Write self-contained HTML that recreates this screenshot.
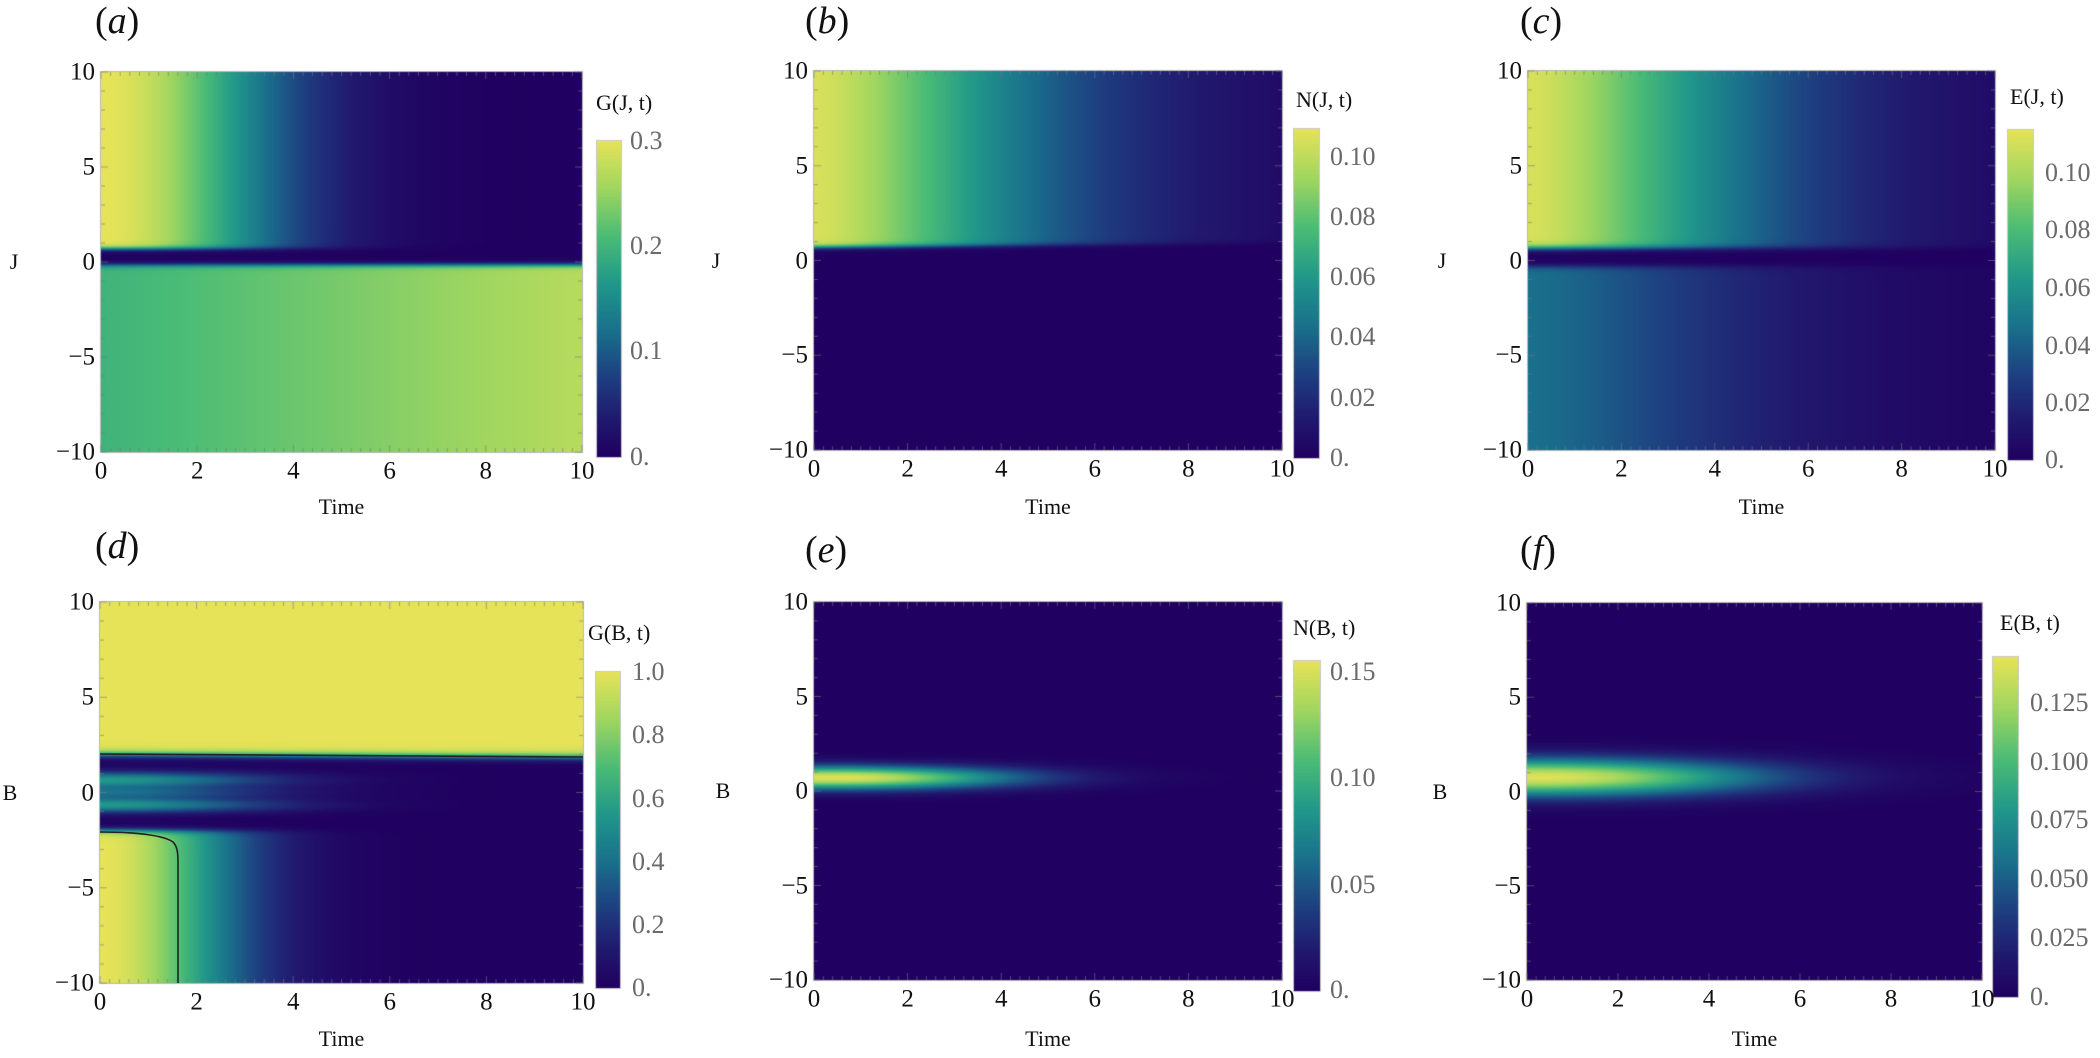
<!DOCTYPE html>
<html><head><meta charset="utf-8">
<style>
html,body{margin:0;padding:0;background:#fff;}
#wrap{position:relative;width:2100px;height:1058px;overflow:hidden;font-family:"Liberation Serif","DejaVu Serif",serif;}
canvas{position:absolute;left:0;top:0;}
.t{position:absolute;white-space:nowrap;color:#111;font-size:25px;line-height:1;}
.g{position:absolute;white-space:nowrap;color:#6a6a6a;font-size:26px;line-height:1;}
.p{position:absolute;white-space:nowrap;font-size:38px;line-height:1;color:#111;}
.p i{font-style:italic;}
.l{position:absolute;white-space:nowrap;font-size:22px;line-height:1;color:#111;}
</style></head><body>
<div id="wrap">
<canvas id="c" width="2100" height="1058"></canvas>
<svg width="2100" height="1058" style="position:absolute;left:0;top:0">
<path d="M100,754 C300,755 450,757 583,757" stroke="#222" stroke-width="1.6" fill="none"/>
<path d="M100,832 C140,832 165,836 173,842 C177,846 178,852 178,862 L178,983" stroke="#222" stroke-width="1.6" fill="none"/>
</svg>
<div id="txt"></div>
</div>
<script>
var stops=[[0,32,0,96],[0.12,33,25,110],[0.25,30,62,128],[0.4,26,112,140],[0.55,33,152,138],[0.7,75,188,118],[0.85,160,214,96],[1,230,227,88]];
function cmap(v){if(v<0)v=0;if(v>1)v=1;for(var i=1;i<stops.length;i++){if(v<=stops[i][0]){var a=stops[i-1],b=stops[i],f=(v-a[0])/(b[0]-a[0]);return [a[1]+(b[1]-a[1])*f,a[2]+(b[2]-a[2])*f,a[3]+(b[3]-a[3])*f];}}return [230,227,88];}
function s(x){return 1/(1+Math.exp(-x));}
function G(t,tau){return Math.exp(-(t/tau)*(t/tau));}
function P(t){return Math.exp(-Math.pow(t/5,1.5));}
var fa=function(t,J){var up=G(t,3.6),lo=0.66+0.24*t/10;return up*s((J-0.7)/0.08)+lo*s((-0.15-J)/0.08);};
var fb=function(t,J){return P(t)*0.97*s((J-0.7-0.02*t)/0.08);};
var fc=function(t,J){return P(t)*0.97*s((J-0.65)/0.1)+0.4*P(t)*s((-0.3-J)/0.1);};
var fd=function(t,B){var top=s((B-2.0+0.014*t)/0.12);
 var mid=(0.55*(Math.exp(-Math.pow((B-0.65)/0.45,2))+Math.exp(-Math.pow((B+0.65)/0.42,2)))+0.3*Math.exp(-Math.pow(B/0.3,2)))*G(t,3.6);
 var bot=G(t,2.8)*s((-2.0-B)/0.1);return Math.min(1,top+mid*(1-top)+bot);};
var fe=function(t,B){return 0.98*Math.exp(-Math.pow((B-0.7)/0.62,2))*Math.exp(-Math.pow(Math.max(0,t-0.5)/3.8,2));};
var ff=function(t,B){return 0.98*Math.exp(-Math.pow((B-0.75)/1.0,2))*Math.exp(-Math.pow(Math.max(0,t-0.3)/4.8,2));};
var panels=[
 {x0:101,x1:582,y0:72,y1:452,f:fa,cb:[597,621,141,457]},
 {x0:814,x1:1282,y0:71,y1:450,f:fb,cb:[1294,1319,129,458]},
 {x0:1528,x1:1995,y0:71,y1:450,f:fc,cb:[2008,2033,130,460]},
 {x0:100,x1:583,y0:602,y1:983,f:fd,cb:[596,620,672,988]},
 {x0:814,x1:1282,y0:602,y1:980,f:fe,cb:[1294,1320,661,991]},
 {x0:1527,x1:1982,y0:603,y1:980,f:ff,cb:[1993,2018,657,997]}];
var cv=document.getElementById('c'),ctx=cv.getContext('2d');
panels.forEach(function(p){
 var w=p.x1-p.x0,h=p.y1-p.y0,img=ctx.createImageData(w,h);
 for(var j=0;j<h;j++){var y=10-20*(j+0.5)/h;for(var i=0;i<w;i++){var t=10*(i+0.5)/w;var c=cmap(p.f(t,y));var k=(j*w+i)*4;img.data[k]=c[0];img.data[k+1]=c[1];img.data[k+2]=c[2];img.data[k+3]=255;}}
 ctx.putImageData(img,p.x0,p.y0);
 ctx.strokeStyle='#b8b8b8';ctx.lineWidth=1;ctx.strokeRect(p.x0-0.5,p.y0-0.5,w+1,h+1);
 ctx.strokeStyle='rgba(120,120,120,0.6)';
 for(var k=0;k<=50;k++){var xx=p.x0+w*k/50,len=(k%10==0)?7:4;ctx.beginPath();ctx.moveTo(xx,p.y0);ctx.lineTo(xx,p.y0+len);ctx.moveTo(xx,p.y1);ctx.lineTo(xx,p.y1-len);ctx.stroke();}
 for(var k=0;k<=20;k++){var yy=p.y0+h*k/20,len=(k%5==0)?7:4;ctx.beginPath();ctx.moveTo(p.x0,yy);ctx.lineTo(p.x0+len,yy);ctx.moveTo(p.x1,yy);ctx.lineTo(p.x1-len,yy);ctx.stroke();}
 var b=p.cb;for(var yy=b[2];yy<b[3];yy++){var c=cmap(1-(yy-b[2])/(b[3]-b[2]));ctx.fillStyle='rgb('+(c[0]|0)+','+(c[1]|0)+','+(c[2]|0)+')';ctx.fillRect(b[0],yy,b[1]-b[0],1);}
 ctx.strokeStyle='#c8c8c8';ctx.strokeRect(b[0]-0.5,b[2]-0.5,b[1]-b[0]+1,b[3]-b[2]+1);
});
var html='';
function add(cls,x,y,txt,align){var tr=align=='c'?'translate(-50%,-50%)':align=='r'?'translate(-100%,-50%)':'translate(0,-50%)';html+='<div class="'+cls+'" style="left:'+x+'px;top:'+y+'px;transform:'+tr+'">'+txt+'</div>';}
var names=['a','b','c','d','e','f'],ylab=['J','J','J','B','B','B'];
var lx=[95,805,1520,95,805,1520],ly=[22,22,22,547,551,551];
var axx=[14,716,1442,10,723,1440];
var cbl=[['G(J, t)',596,103],['N(J, t)',1296,100],['E(J, t)',2010,97],['G(B, t)',588,633],['N(B, t)',1293,628],['E(B, t)',2000,623]];
var cbt=[
 [[0.3,141],[0.2,246],[0.1,351],['0.',457]],
 [['0.10',157],['0.08',217],['0.06',277],['0.04',337],['0.02',398],['0.',458]],
 [['0.10',173],['0.08',230],['0.06',288],['0.04',346],['0.02',403],['0.',460]],
 [['1.0',672],['0.8',735],['0.6',799],['0.4',862],['0.2',925],['0.',988]],
 [['0.15',672],['0.10',778],['0.05',885],['0.',990]],
 [['0.125',703],['0.100',762],['0.075',820],['0.050',879],['0.025',938],['0.',997]]];
var cbx=[630,1330,2045,632,1330,2030];
panels.forEach(function(p,i){
 html+='<div class="p" style="left:'+lx[i]+'px;top:'+(ly[i]-20)+'px">(<i>'+names[i]+'</i>)</div>';
 var h=p.y1-p.y0,w=p.x1-p.x0;
 ['10','5','0','\u22125','\u221210'].forEach(function(s,k){add('t',p.x0-6,p.y0+h*k/4,s,'r');});
 ['0','2','4','6','8','10'].forEach(function(s,k){add('t',p.x0+w*k/5,p.y1+19,s,'c');});
 add('l',axx[i],(p.y0+p.y1)/2,ylab[i],'c');
 add('l',(p.x0+p.x1)/2,i<3?507:1039,'Time','c');
 add('l',cbl[i][1],cbl[i][2],cbl[i][0],'l');
 cbt[i].forEach(function(q){add('g',cbx[i],q[1],q[0],'l');});
});
document.getElementById('txt').innerHTML=html;
</script>
</body></html>
